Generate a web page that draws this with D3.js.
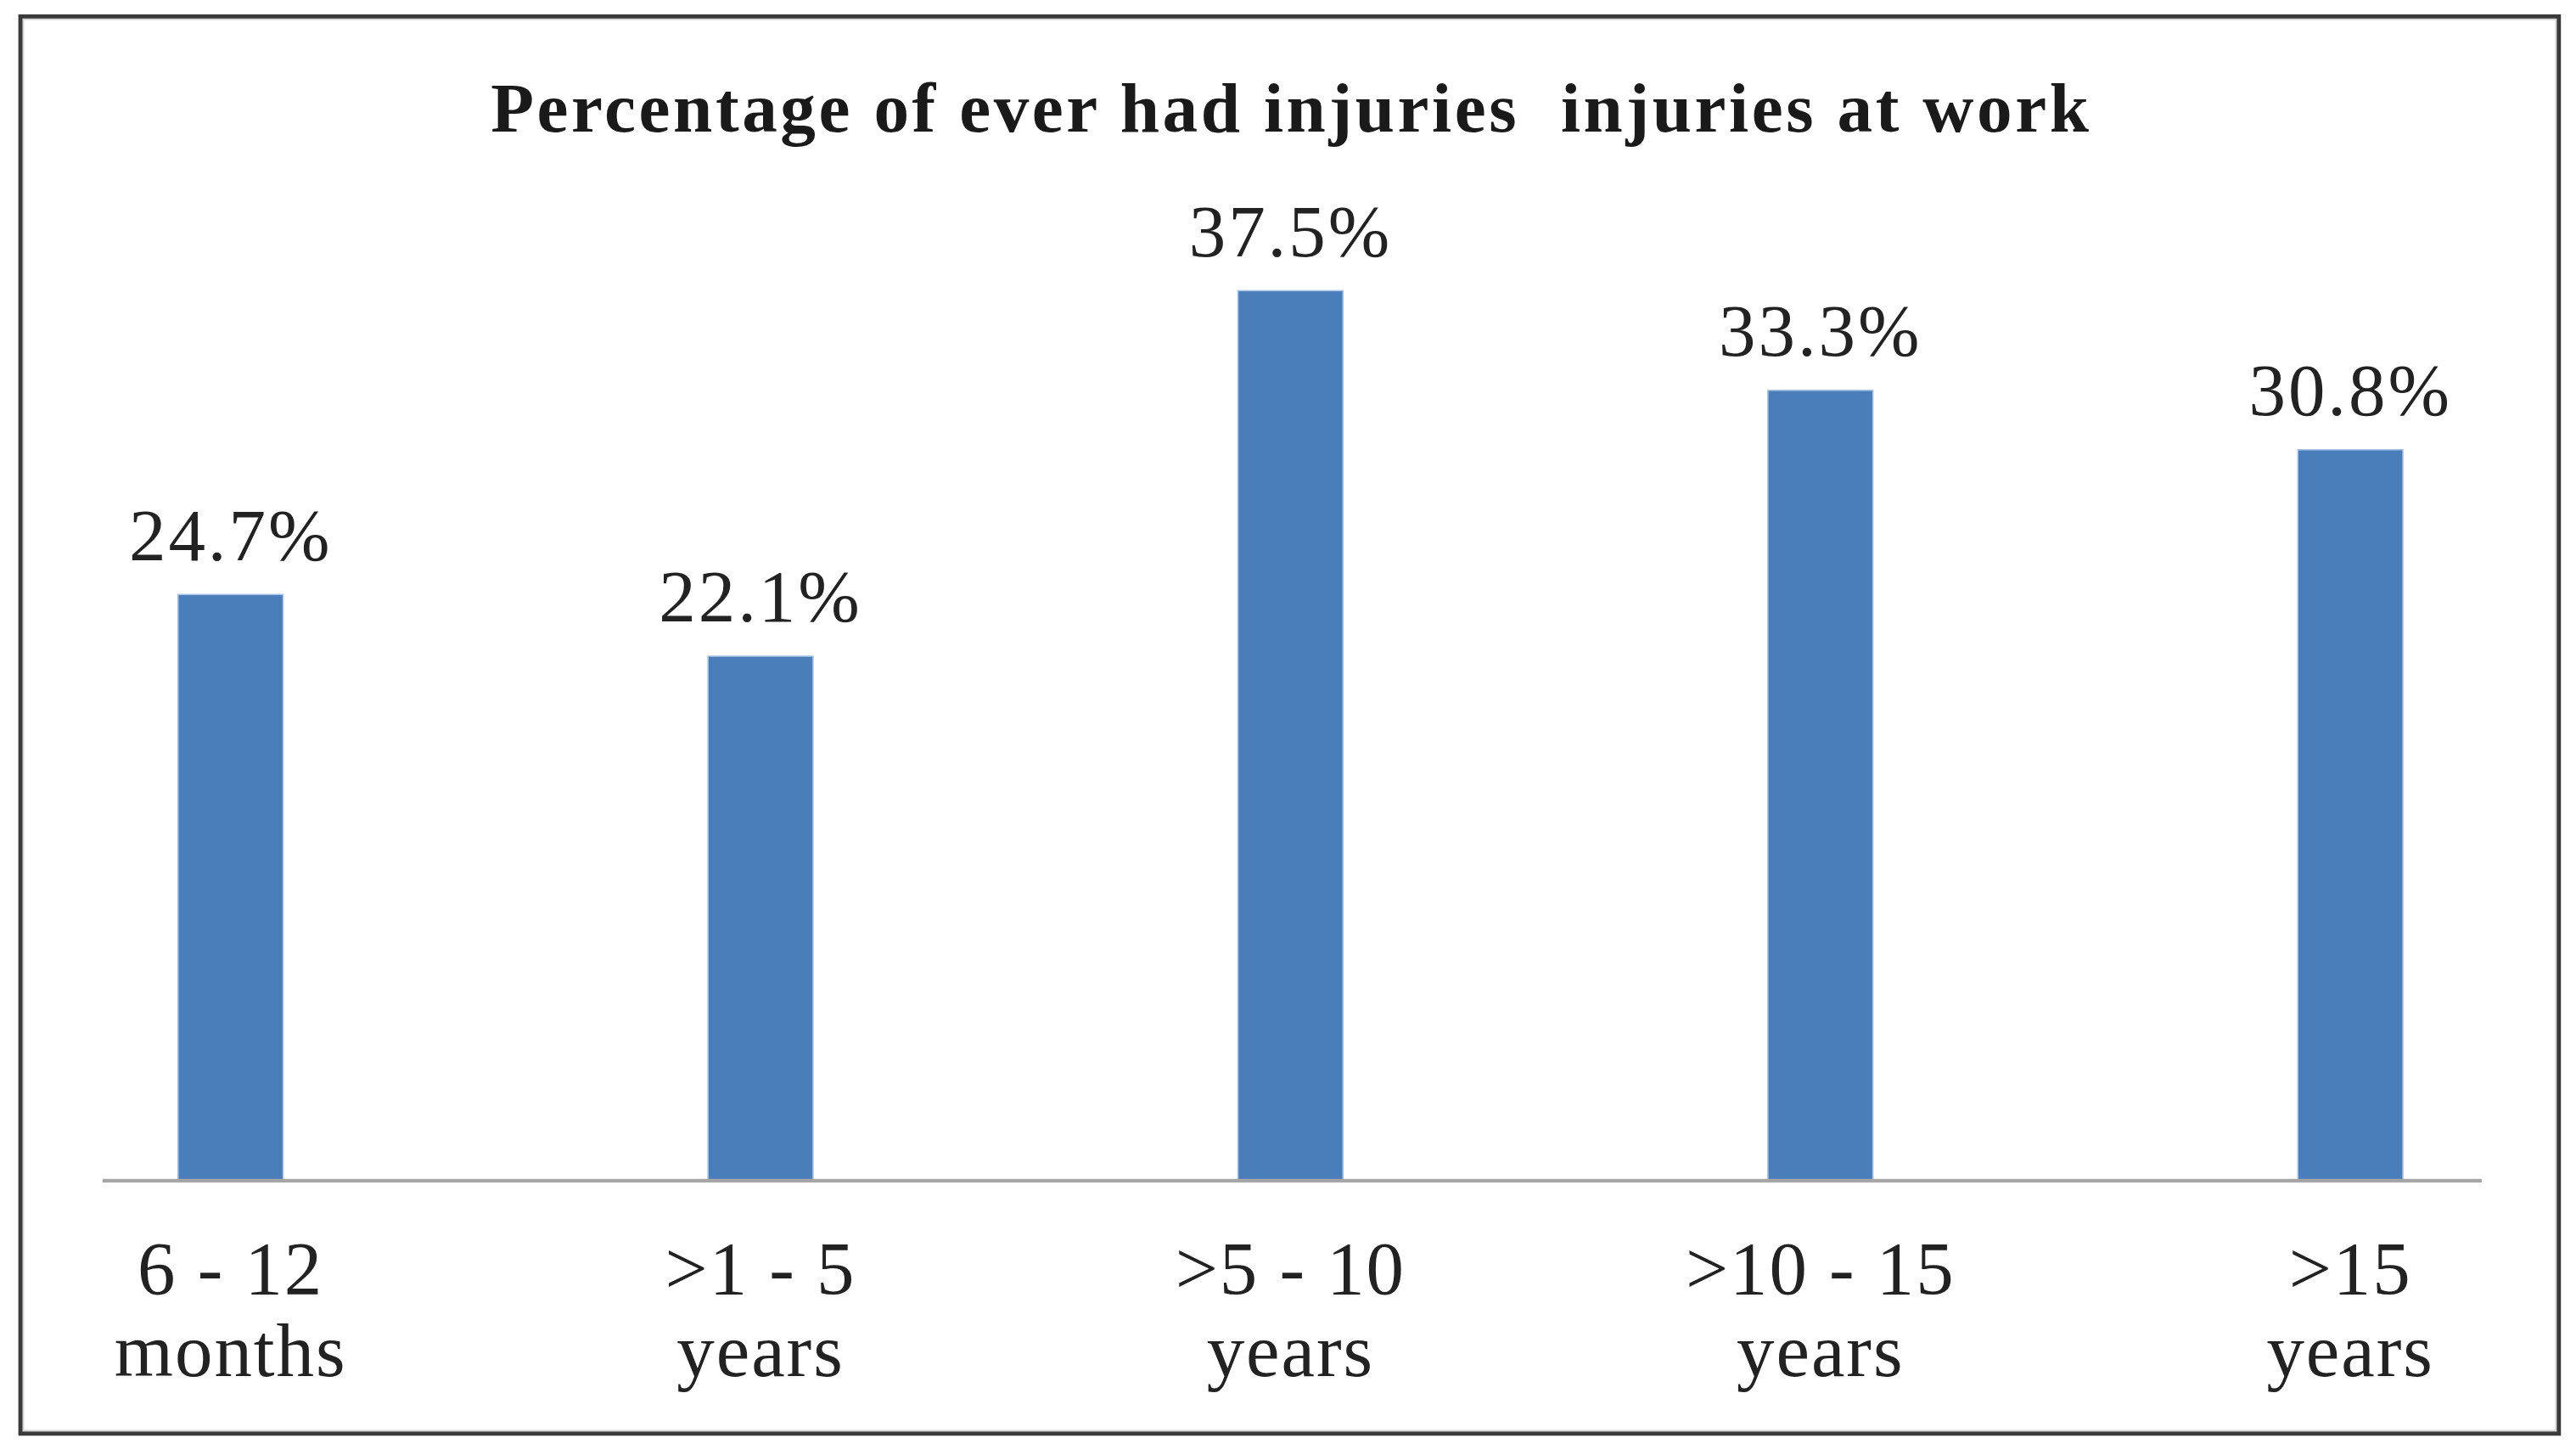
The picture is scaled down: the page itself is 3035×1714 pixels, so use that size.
<!DOCTYPE html>
<html>
<head>
<meta charset="utf-8">
<script src="https://cdn.jsdelivr.net/npm/d3@7"></script>
<style>
  body { margin: 0; background: #fff; }
</style>
</head>
<body>
<script>
// data
const categories = ['6 - 12|months', '>1 - 5|years', '>5 - 10|years', '>10 - 15|years', '>15|years'];
const values = [24.7, 22.1, 37.5, 33.3, 30.8];
const valueLabels = ['24.7%', '22.1%', '37.5%', '33.3%', '30.8%'];
const title = 'Percentage of ever had injuries  injuries at work';

// drawing is laid out in a 1568 x 886 box, scaled up to the window
const W = 1568, H = 886;

let svg = d3
  .select('body')
  .append('svg')
  .attr('width', 3035)
  .attr('height', 1714)
  .attr('viewBox', '0 0 ' + W + ' ' + H)
  .style('display', 'block');

// outer frame
svg.append('rect')
  .attr('x', 13.5).attr('y', 11.5)
  .attr('width', 1543).attr('height', 860)
  .attr('fill', 'none')
  .attr('stroke', '#d4d4d4')
  .attr('stroke-width', 1.5);
svg.append('rect')
  .attr('x', 12).attr('y', 10)
  .attr('width', 1546).attr('height', 863)
  .attr('fill', 'none')
  .attr('stroke', '#3a3a3a')
  .attr('stroke-width', 2.5);

const baseY = 719;

let x = d3.scalePoint()
  .domain(categories)
  .range([140, 1431]);

let y = d3.scaleLinear()
  .domain([0, 37.5])
  .range([baseY, 177]);

const barW = 64;

// bars
svg.append('g')
  .selectAll('rect')
  .data(values)
  .enter()
  .append('rect')
  .attr('x', (d, i) => x(categories[i]) - barW / 2)
  .attr('y', d => y(d))
  .attr('width', barW)
  .attr('height', d => y(0) - y(d))
  .attr('fill', '#4a7ebb')
  .attr('stroke', '#a9c3e4')
  .attr('stroke-width', 0.8);

// baseline
svg.append('line')
  .attr('x1', 62).attr('x2', 1511)
  .attr('y1', baseY).attr('y2', baseY)
  .attr('stroke', '#a6a6a6')
  .attr('stroke-width', 2.2);

// value labels
svg.append('g')
  .selectAll('text')
  .data(values)
  .enter()
  .append('text')
  .attr('x', (d, i) => x(categories[i]))
  .attr('y', d => y(d) - 21)
  .attr('text-anchor', 'middle')
  .style('font', '45px "Liberation Serif", "Times New Roman", serif')
  .style('letter-spacing', '1.5px')
  .style('fill', '#222')
  .text((d, i) => valueLabels[i]);

// category labels, two lines each
let cat = svg.append('g')
  .selectAll('text')
  .data(categories)
  .enter()
  .append('text')
  .attr('text-anchor', 'middle')
  .style('font', '46px "Liberation Serif", "Times New Roman", serif')
  .style('letter-spacing', '1px')
  .style('fill', '#222');

cat.each(function (d) {
  const lines = d.split('|');
  const t = d3.select(this);
  lines.forEach(function (l, j) {
    t.append('tspan')
      .attr('x', x(d))
      .attr('y', 788 + j * 50)
      .text(l);
  });
});

// title
svg.append('text')
  .attr('x', 786)
  .attr('y', 80)
  .attr('text-anchor', 'middle')
  .style('white-space', 'pre')
  .style('font', 'bold 43px "Liberation Serif", "Times New Roman", serif')
  .style('letter-spacing', '1.85px')
  .style('fill', '#1a1a1a')
  .text(title);
</script>
</body>
</html>
